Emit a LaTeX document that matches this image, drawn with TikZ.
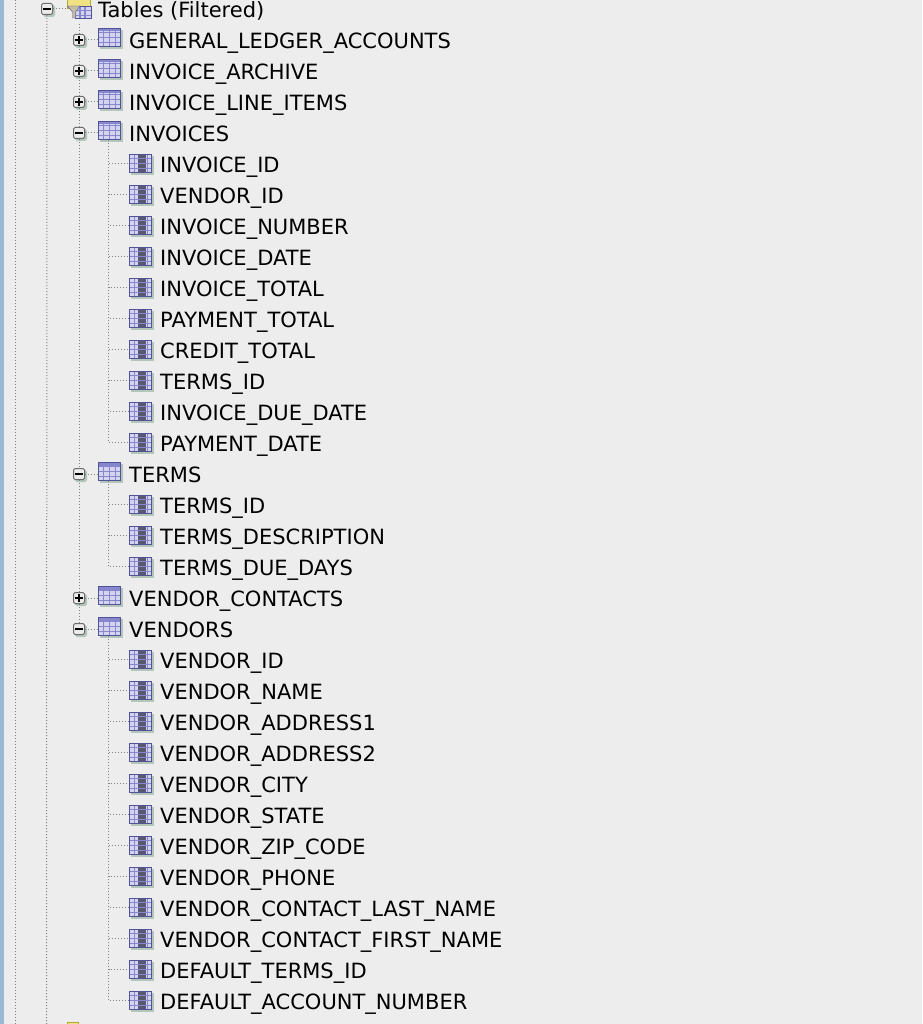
\documentclass[tikz,border=0pt]{standalone}
\usepackage{fontspec}
\setmainfont{DejaVu Sans}
\usetikzlibrary{shadows}
\definecolor{panel gray}{RGB}{237,237,237}
\definecolor{side blue}{RGB}{155,184,214}
\definecolor{grid edge}{RGB}{82,82,150}
\definecolor{grid line}{RGB}{135,135,205}
\definecolor{grid cell}{RGB}{212,212,240}
\definecolor{dark column}{RGB}{88,88,112}
\definecolor{icon shadow}{RGB}{180,198,186}
\definecolor{folder yellow}{RGB}{240,226,130}
\newcommand{\gridrows}{%
	\foreach \gy in {4,9,14} \draw[grid line, line width=1.2pt] ([yshift=-\gy pt]path picture bounding box.north west) -- ([yshift=-\gy pt]path picture bounding box.north east);
}
\newcommand{\gridcols}[1]{%
	\foreach \gx in {#1} \draw[grid line, line width=1.2pt] ([xshift=\gx pt]path picture bounding box.north west) -- ([xshift=\gx pt]path picture bounding box.south west);
}
\tikzset{
	treeline/.style = {gray, dash pattern=on 1pt off 2pt, line width=1pt},
	rowtext/.style = {anchor=base west, inner sep=0pt, font=\fontsize{21}{21}\selectfont, text=black},
	boxshadow/.style = {copy shadow={shadow xshift=2pt, shadow yshift=-2pt, fill=icon shadow, draw=icon shadow}},
	expander/.style = {draw=gray!85!black, line width=1pt, fill=gray!15, rounded corners=1.5pt, minimum size=11pt, inner sep=0pt, boxshadow},
	plusbox/.style = {expander, path picture={
		\draw[black, line width=1.2pt] ([xshift=-4pt]path picture bounding box.center) -- ([xshift=4pt]path picture bounding box.center);
		\draw[black, line width=1.2pt] ([yshift=-4pt]path picture bounding box.center) -- ([yshift=4pt]path picture bounding box.center);}},
	minusbox/.style = {expander, path picture={
		\draw[black, line width=1.2pt] ([xshift=-4pt]path picture bounding box.center) -- ([xshift=4pt]path picture bounding box.center);}},
	tableicon/.style = {draw=grid edge, fill=grid cell, line width=1.2pt, minimum width=22pt, minimum height=18pt, inner sep=0pt, boxshadow, path picture={\gridcols{5,11,17}\gridrows
		\fill[grid line] (path picture bounding box.north west) rectangle ([yshift=-3pt]path picture bounding box.north east);}},
	columnicon/.style = {draw=grid edge, fill=grid cell, line width=1.2pt, minimum width=22pt, minimum height=18pt, inner sep=0pt, boxshadow, path picture={\gridcols{5,18}
		\fill[dark column] ([xshift=8.5pt]path picture bounding box.north west) rectangle ([xshift=16.5pt]path picture bounding box.south west);\gridrows}},
	foldericon/.style = {draw=grid edge, fill=grid cell, line width=1pt, minimum width=16pt, minimum height=12pt, inner sep=0pt, path picture={\gridcols{5,10}\gridrows}},
}
\begin{document}
\begin{tikzpicture}[x=1pt, y=-1pt]
	\useasboundingbox (0, 0) rectangle (922, 1024);
	\fill[panel gray] (0, 0) rectangle (922, 1024);
	\fill[side blue] (0, 0) rectangle (4, 1024);
	% outer guide lines
	\coordinate (outertop) at (15.5, 0);
	\coordinate (outerend) at (15.5, 1024);
	\coordinate (guideend) at (46.5, 1024);
	\draw[treeline] (outertop) -- (outerend);
	% filtered tables folder
	\node[minusbox] (tablesexp) at (47, 9) {};
	\fill[folder yellow, draw=olive!70] (67.5, -3) rectangle (90, 8);
	\node[foldericon] (tablesicon) at (83, 12.5) {};
	\filldraw[fill=folder yellow!60!grid line, draw=grid edge] (67.5, 6) -- (80, 6) -- (75.5, 12) -- (75.5, 18) -- (72.5, 18) -- (72.5, 12) -- cycle;
	\node[rowtext] (tablestxt) at (98, 17.5) {Tables (Filtered)};
	\coordinate (folderleft) at (67, 9);
	\draw[treeline] (tablesexp) -- (folderleft);
	\draw[treeline] (tablesexp) -- (guideend);
	% tables
	\foreach \nm/\rw/\kind/\txt in {
		ledger/1/plusbox/GENERAL\_LEDGER\_ACCOUNTS,
		archive/2/plusbox/INVOICE\_ARCHIVE,
		items/3/plusbox/INVOICE\_LINE\_ITEMS,
		invoices/4/minusbox/INVOICES,
		terms/15/minusbox/TERMS,
		contacts/19/plusbox/VENDOR\_CONTACTS,
		vendors/20/minusbox/VENDORS}
	{
		\node[\kind] (\nm exp) at (79, 9 + 31*\rw) {};
		\node[tableicon] (\nm tab) at (109.5, 6.5 + 31*\rw) {};
		\node[rowtext] (\nm txt) at (129, 17.5 + 31*\rw) {\txt};
		\draw[treeline] (\nm exp) -- (\nm exp -| \nm tab.west);
	}
	\coordinate (tablesdrop) at (79, 24);
	\draw[treeline] (tablesdrop) -- (ledgerexp);
	\draw[treeline] (ledgerexp) -- (archiveexp);
	\draw[treeline] (archiveexp) -- (itemsexp);
	\draw[treeline] (itemsexp) -- (invoicesexp);
	\draw[treeline] (invoicesexp) -- (termsexp);
	\draw[treeline] (termsexp) -- (contactsexp);
	\draw[treeline] (contactsexp) -- (vendorsexp);
	% columns
	\foreach \nm/\rw/\prnt/\txt in {
		invid/5/invoices/INVOICE\_ID,
		invvendor/6/invoices/VENDOR\_ID,
		invnumber/7/invoices/INVOICE\_NUMBER,
		invdate/8/invoices/INVOICE\_DATE,
		invtotal/9/invoices/INVOICE\_TOTAL,
		paytotal/10/invoices/PAYMENT\_TOTAL,
		credit/11/invoices/CREDIT\_TOTAL,
		invterms/12/invoices/TERMS\_ID,
		invdue/13/invoices/INVOICE\_DUE\_DATE,
		paydate/14/invoices/PAYMENT\_DATE,
		termsid/16/terms/TERMS\_ID,
		termsdesc/17/terms/TERMS\_DESCRIPTION,
		termsdays/18/terms/TERMS\_DUE\_DAYS,
		venid/21/vendors/VENDOR\_ID,
		venname/22/vendors/VENDOR\_NAME,
		venaddra/23/vendors/VENDOR\_ADDRESS1,
		venaddrb/24/vendors/VENDOR\_ADDRESS2,
		vencity/25/vendors/VENDOR\_CITY,
		venstate/26/vendors/VENDOR\_STATE,
		venzip/27/vendors/VENDOR\_ZIP\_CODE,
		venphone/28/vendors/VENDOR\_PHONE,
		venlast/29/vendors/VENDOR\_CONTACT\_LAST\_NAME,
		venfirst/30/vendors/VENDOR\_CONTACT\_FIRST\_NAME,
		vendefterm/31/vendors/DEFAULT\_TERMS\_ID,
		vendefacct/32/vendors/DEFAULT\_ACCOUNT\_NUMBER}
	{
		\node[columnicon] (\nm col) at (140.5, 8.5 + 31*\rw) {};
		\node[rowtext] (\nm txt) at (160, 17.5 + 31*\rw) {\txt};
		\draw[treeline] (\prnt tab.south -| 108.5, 0) |- (\nm col.west);
	}
	% next folder, cut off by the edge
	\fill[folder yellow, draw=olive!70] (67, 1022) rectangle (78, 1030);
\end{tikzpicture}
\end{document}
